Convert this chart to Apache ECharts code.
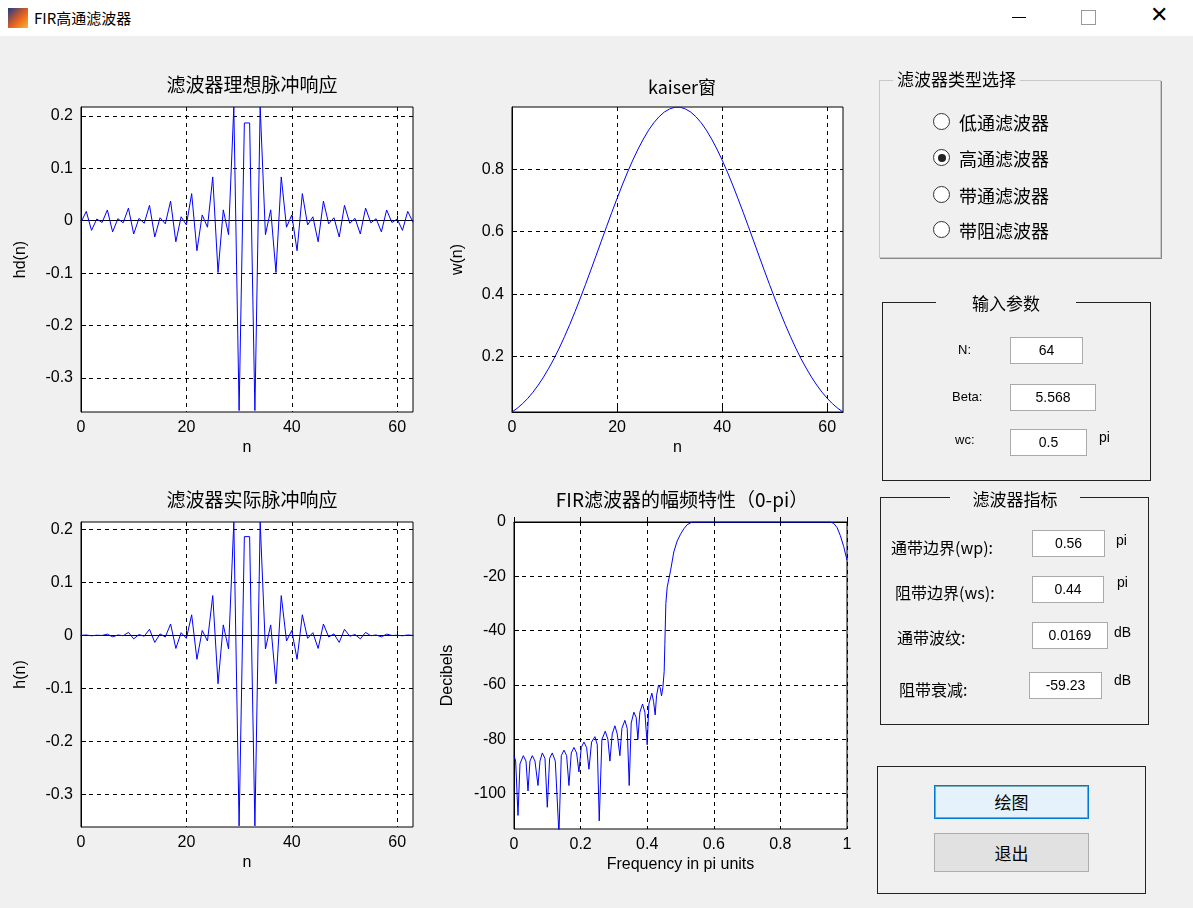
<!DOCTYPE html>
<html><head><meta charset="utf-8">
<script src="https://cdn.jsdelivr.net/npm/echarts@6/dist/echarts.min.js"></script>
<style>
body{margin:0;width:1193px;height:908px;background:#f0f0f0;position:relative;overflow:hidden;font-family:Arial,"Liberation Sans","Noto Sans CJK SC",sans-serif;}
#chart{position:absolute;left:0;top:0;width:1193px;height:908px;}
.a{position:absolute;white-space:nowrap;}
.cn{font-family:"Noto Sans CJK SC",sans-serif;}
.box{position:absolute;background:#fff;border:1px solid #aaa;font-size:14px;text-align:center;line-height:24px;}
.rad{position:absolute;width:15px;height:15px;border:1px solid #333;border-radius:50%;background:#fff;}
.grp{position:absolute;border:1px solid #222;}
</style></head><body>
<div id="chart"></div>
<div class="a" style="left:0;top:0;width:1193px;height:36px;background:#fff;"></div>
<div class="a" style="left:8px;top:8px;width:20px;height:20px;background:linear-gradient(135deg,#1d3a8a,#e8601c 55%,#f7b733);"></div>
<div class="a cn" style="left:34px;top:7px;font-size:15px;">FIR高通滤波器</div>
<div class="a" style="left:1012px;top:17px;width:14px;height:1px;background:#000;"></div>
<div class="a" style="left:1081px;top:10px;width:13px;height:13px;border:1px solid #999;"></div>
<div class="a" style="left:1150px;top:2px;font-size:22px;font-weight:300;">✕</div>

<div class="a" style="left:879px;top:80px;width:280px;height:176px;border:1px solid #c8c8c8;box-shadow:1px 1px 0 #888;"></div>
<div class="a cn" style="left:893px;top:66px;font-size:17px;background:#f0f0f0;padding:0 4px;">滤波器类型选择</div>
<div class="rad" style="left:933px;top:113px;"></div><div class="a cn" style="left:959px;top:109px;font-size:18px;">低通滤波器</div>
<div class="rad" style="left:933px;top:149px;"><div style="position:absolute;left:3.5px;top:3.5px;width:8px;height:8px;border-radius:50%;background:#222;"></div></div><div class="a cn" style="left:959px;top:145px;font-size:18px;">高通滤波器</div>
<div class="rad" style="left:933px;top:186px;"></div><div class="a cn" style="left:959px;top:182px;font-size:18px;">带通滤波器</div>
<div class="rad" style="left:933px;top:221px;"></div><div class="a cn" style="left:959px;top:217px;font-size:18px;">带阻滤波器</div>

<div class="grp" style="left:882px;top:302px;width:267px;height:177px;"></div>
<div class="a cn" style="left:936px;top:290px;width:140px;text-align:center;background:#f0f0f0;font-size:17px;">输入参数</div>
<div class="a" style="left:958px;top:342px;font-size:13px;">N:</div>
<div class="box" style="left:1010px;top:337px;width:71px;height:25px;">64</div>
<div class="a" style="left:952px;top:389px;font-size:13px;">Beta:</div>
<div class="box" style="left:1010px;top:384px;width:84px;height:25px;">5.568</div>
<div class="a" style="left:955px;top:432px;font-size:13px;">wc:</div>
<div class="box" style="left:1010px;top:429px;width:75px;height:25px;">0.5</div>
<div class="a" style="left:1099px;top:429px;font-size:14px;">pi</div>

<div class="grp" style="left:880px;top:497px;width:267px;height:226px;"></div>
<div class="a cn" style="left:950px;top:486px;width:130px;text-align:center;background:#f0f0f0;font-size:17px;">滤波器指标</div>
<div class="a cn" style="left:891px;top:535px;font-size:16px;">通带边界(wp):</div>
<div class="box" style="left:1032px;top:530px;width:71px;height:25px;">0.56</div>
<div class="a" style="left:1116px;top:532px;font-size:14px;">pi</div>
<div class="a cn" style="left:895px;top:580px;font-size:16px;">阻带边界(ws):</div>
<div class="box" style="left:1032px;top:576px;width:70px;height:25px;">0.44</div>
<div class="a" style="left:1117px;top:574px;font-size:14px;">pi</div>
<div class="a cn" style="left:897px;top:625px;font-size:16px;">通带波纹:</div>
<div class="box" style="left:1032px;top:622px;width:74px;height:25px;">0.0169</div>
<div class="a" style="left:1114px;top:624px;font-size:14px;">dB</div>
<div class="a cn" style="left:899px;top:677px;font-size:16px;">阻带衰减:</div>
<div class="box" style="left:1029px;top:672px;width:71px;height:25px;">-59.23</div>
<div class="a" style="left:1114px;top:672px;font-size:14px;">dB</div>

<div class="grp" style="left:877px;top:766px;width:267px;height:126px;"></div>
<div class="a cn" style="left:934px;top:785px;width:153px;height:32px;border:1px solid #0078d7;background:#e5f1fb;box-shadow:inset 0 0 0 1px #7ab;text-align:center;line-height:32px;font-size:17px;">绘图</div>
<div class="a cn" style="left:934px;top:833px;width:153px;height:37px;border:1px solid #adadad;background:#e1e1e1;text-align:center;line-height:37px;font-size:17px;">退出</div>

<script>
var hdVals=[-0.0030,0.0178,-0.0184,0.0033,-0.0034,0.0205,-0.0213,0.0038,-0.0040,0.0241,-0.0253,0.0045,-0.0048,0.0294,-0.0310,0.0057,-0.0060,0.0375,-0.0402,0.0075,-0.0081,0.0517,-0.0572,0.0110,-0.0124,0.0836,-0.0988,0.0207,-0.0266,0.2173,-0.3622,0.1865,
0.1865,-0.3622,0.2173,-0.0266,0.0207,-0.0988,0.0836,-0.0124,0.0110,-0.0572,0.0517,-0.0081,0.0075,-0.0402,0.0375,-0.0060,0.0057,-0.0310,0.0294,-0.0048,0.0045,-0.0253,0.0241,-0.0040,0.0038,-0.0213,0.0205,-0.0034,0.0033,-0.0184,0.0178,-0.0030];
var wVals=[0.0220,0.0341,0.0486,0.0657,0.0856,0.1084,0.1340,0.1625,0.1931,0.2272,0.2638,0.3027,0.3439,0.3869,0.4314,0.4769,0.5233,0.5699,0.6164,0.6623,0.7069,0.7502,0.7913,0.8298,0.8653,0.8972,0.9256,0.9496,0.9690,0.9840,0.9937,0.9993,
0.9993,0.9937,0.9840,0.9690,0.9496,0.9256,0.8972,0.8653,0.8298,0.7913,0.7502,0.7069,0.6623,0.6164,0.5699,0.5233,0.4769,0.4314,0.3869,0.3439,0.3027,0.2638,0.2272,0.1931,0.1625,0.1340,0.1084,0.0856,0.0657,0.0486,0.0341,0.0220];
var hVals=[-0.0001,0.0006,-0.0009,0.0002,-0.0003,0.0022,-0.0029,0.0006,-0.0008,0.0055,-0.0067,0.0014,-0.0017,0.0114,-0.0134,0.0027,-0.0031,0.0214,-0.0248,0.0050,-0.0057,0.0388,-0.0453,0.0091,-0.0107,0.0750,-0.0914,0.0197,-0.0258,0.2138,-0.3599,0.1864,
0.1864,-0.3599,0.2138,-0.0258,0.0197,-0.0914,0.0750,-0.0107,0.0091,-0.0453,0.0388,-0.0057,0.0050,-0.0248,0.0214,-0.0031,0.0027,-0.0134,0.0114,-0.0017,0.0014,-0.0067,0.0055,-0.0008,0.0006,-0.0029,0.0022,-0.0003,0.0002,-0.0009,0.0006,-0.0001];
var freq=[0,0.005,0.012,0.018,0.028,0.036,0.042,0.048,0.055,0.063,0.072,0.078,0.085,0.093,0.1,0.107,0.115,0.124,0.135,0.142,0.15,0.158,0.165,0.172,0.18,0.188,0.195,0.202,0.21,0.218,0.225,0.233,0.243,0.25,0.256,0.264,0.274,0.282,0.288,0.295,0.303,0.31,0.318,0.324,0.333,0.34,0.346,0.352,0.36,0.367,0.372,0.378,0.386,0.393,0.4,0.405,0.414,0.419,0.424,0.428,0.434,0.439,0.443,0.447,0.451,0.453,0.456,0.46,0.47,0.48,0.49,0.5,0.51,0.52,0.535,0.6,0.7,0.8,0.9,0.95,0.96,0.97,0.98,0.99,1.0];
var dbVals=[-86,-88,-108,-89,-86,-88,-99,-88,-86,-88,-97,-88,-85,-87,-105,-87,-85,-88,-115,-86,-84,-86,-97,-85,-83,-85,-92,-83,-81,-83,-91,-81,-79,-82,-110,-80,-77,-80,-88,-78,-75,-78,-86,-76,-73,-76,-97,-74,-70,-72,-80,-70,-67,-70,-82,-67,-63,-66,-71,-64,-60,-61,-64,-61,-55,-45,-30,-24,-18,-11,-7,-4.5,-2.5,-1,0,0,0,0,0,0,-0.5,-2,-5,-9,-14];
var nTicks=[0,20,40,60];
var hTicks=[-0.3,-0.2,-0.1,0,0.1,0.2];
var wTicks=[0.2,0.4,0.6,0.8];
var dbTicks=[-100,-80,-60,-40,-20,0];
var fTicks=[0,0.2,0.4,0.6,0.8,1];

var chart=echarts.init(document.getElementById('chart'));
var lab={color:'#000',fontSize:16,fontFamily:'Arial'};
var grids=[
 {left:81,top:107,width:332,height:305},
 {left:512,top:107,width:331,height:305},
 {left:81,top:522,width:332,height:305},
 {left:514,top:522,width:333,height:307}
].map(function(g){return Object.assign({show:true,backgroundColor:'#fff',borderColor:'#000',borderWidth:1},g);});
function xax(i,min,max,ticks,name){return {type:'value',gridIndex:i,min:min,max:max,name:name,nameLocation:'middle',nameGap:28,nameTextStyle:lab,
 axisLine:{lineStyle:{color:'#000'}},axisTick:{inside:true,length:5,customValues:ticks,lineStyle:{color:'#000'}},
 axisLabel:Object.assign({customValues:ticks,margin:8},lab),splitLine:{show:true,lineStyle:{color:'#000',type:[4,4]}}};}
function yax(i,min,max,ticks,name,gap){return {type:'value',gridIndex:i,min:min,max:max,name:name,nameLocation:'middle',nameGap:gap,nameTextStyle:lab,
 axisLine:{show:true,lineStyle:{color:'#000'}},axisTick:{inside:true,length:5,customValues:ticks,lineStyle:{color:'#000'}},
 axisLabel:Object.assign({customValues:ticks,margin:8},lab),splitLine:{show:true,lineStyle:{color:'#000',type:[4,4]}}};}
function ser(i,data){return {type:'line',xAxisIndex:i,yAxisIndex:i,data:data,showSymbol:false,symbol:'none',lineStyle:{color:'#0000ff',width:1},clip:true};}
function pairs(v){return v.map(function(y,n){return [n,y];});}
var tt={fontFamily:'"Noto Sans CJK SC",Arial',fontSize:19,fontWeight:'normal',color:'#000'};
chart.setOption({
 animation:false,
 title:[
  {text:'滤波器理想脉冲响应',left:247,top:70,textAlign:'center',textStyle:tt},
  {text:'kaiser窗',left:677,top:73,textAlign:'center',textStyle:Object.assign({},tt,{fontSize:18})},
  {text:'滤波器实际脉冲响应',left:247,top:485,textAlign:'center',textStyle:tt},
  {text:'FIR滤波器的幅频特性（0-pi）',left:677,top:485,textAlign:'center',textStyle:tt}
 ],
 grid:grids,
 xAxis:[xax(0,0,63,nTicks,'n'),xax(1,0,63,nTicks,'n'),xax(2,0,63,nTicks,'n'),xax(3,0,1,fTicks,'Frequency in pi units')],
 yAxis:[yax(0,-0.365,0.217,hTicks,'hd(n)',52),yax(1,0.022,1,wTicks,'w(n)',46),yax(2,-0.362,0.214,hTicks,'h(n)',52),yax(3,-113,0,dbTicks,'Decibels',58)],
 series:[ser(0,pairs(hdVals)),ser(1,pairs(wVals)),ser(2,pairs(hVals)),ser(3,freq.map(function(f,k){return [f,dbVals[k]];}))]
});
</script></body></html>
